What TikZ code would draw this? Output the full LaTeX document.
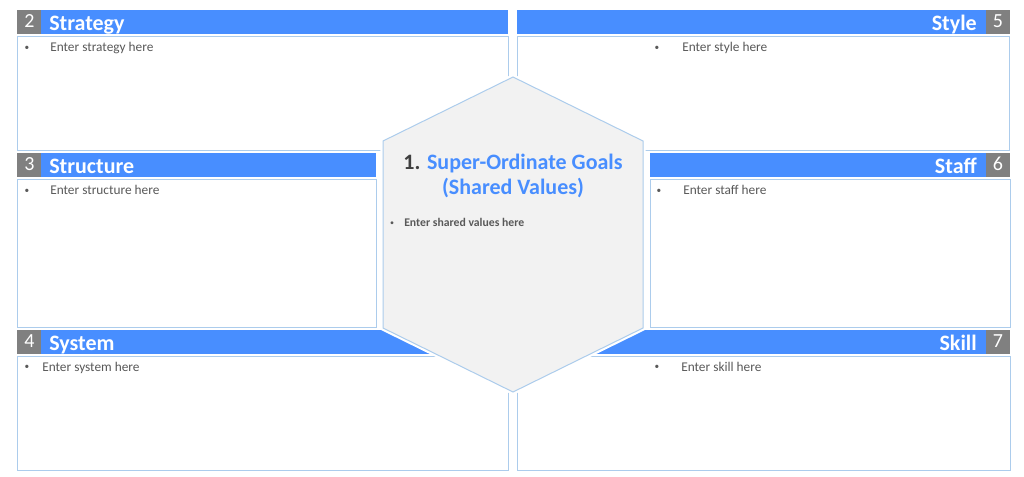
\documentclass[tikz,border=0pt]{standalone}
\usepackage{fontspec}
\setmainfont{Carlito}
\definecolor{barblue}{RGB}{72,142,255}
\definecolor{numgray}{RGB}{128,128,128}
\definecolor{edgeblue}{RGB}{172,204,236}
\definecolor{hexfill}{RGB}{242,242,242}
\definecolor{bodytext}{RGB}{89,89,89}
\definecolor{darktext}{RGB}{64,64,64}
\begin{document}
\begin{tikzpicture}[x=0.75pt,y=-0.75pt,
  bar/.style={fill=barblue,draw=none},
  numbox/.style={fill=numgray,draw=none},
  panel/.style={draw=edgeblue,line width=0.75pt,fill=white},
  title/.style={text=white,font=\bfseries\fontsize{16.5}{18}\selectfont,inner sep=0pt},
  num/.style={text=white,font=\fontsize{15}{17}\selectfont,inner sep=0pt},
  body/.style={text=bodytext,font=\fontsize{10}{12}\selectfont,inner sep=0pt},
  bul/.style={text=bodytext,font=\fontsize{7}{8}\selectfont,inner sep=0pt},
  hexline/.style={draw=edgeblue,line width=0.75pt,fill=hexfill},
  goal/.style={text=barblue,font=\bfseries\fontsize{16.5}{19}\selectfont,inner sep=0pt}
]
\useasboundingbox[fill=white] (0,0) rectangle (1024,477);

% ---- panels ----
\draw[panel] (17,37) rectangle (508,151);
\draw[panel] (517,37) rectangle (1009,151);
\draw[panel] (17,180) rectangle (376,327);
\draw[panel] (650,180) rectangle (1010,327);
\draw[panel] (17,356) rectangle (508,470);
\draw[panel] (517,356) rectangle (1010,470);

% ---- header bars ----
\fill[numbox] (17,10) rectangle (41,34);
\fill[bar] (41,10) rectangle (508,34);
\fill[bar] (517,10) rectangle (986,34);
\fill[numbox] (986,10) rectangle (1010,34);

\fill[numbox] (17,153) rectangle (41,177);
\fill[bar] (41,153) rectangle (376,177);
\fill[bar] (650,153) rectangle (986,177);
\fill[numbox] (986,153) rectangle (1010,177);

\fill[numbox] (17,330) rectangle (41,354);
\fill[bar] (41,330) rectangle (508,354);
\fill[bar] (517,330) rectangle (986,354);
\fill[numbox] (986,330) rectangle (1010,354);

% ---- titles and numbers ----
\node[num,anchor=base] (n2) at (29.5,27.5) {2};
\node[title,anchor=base west] (t2) at (49,30.5) {Strategy};
\node[num,anchor=base] (n3) at (29.5,170.5) {3};
\node[title,anchor=base west] (t3) at (49,173.5) {Structure};
\node[num,anchor=base] (n4) at (29.5,347.5) {4};
\node[title,anchor=base west] (t4) at (49,350.5) {System};
\node[num,anchor=base] (n5) at (998,27.5) {5};
\node[title,anchor=base east] (t5) at (977,30.5) {Style};
\node[num,anchor=base] (n6) at (998,170.5) {6};
\node[title,anchor=base east] (t6) at (977,173.5) {Staff};
\node[num,anchor=base] (n7) at (998,347.5) {7};
\node[title,anchor=base east] (t7) at (977,350.5) {Skill};

% ---- bullets ----
\node[bul] (b2) at (27,48) {•};
\node[body,anchor=base west] (e2) at (50,52) {Enter strategy here};
\node[bul] (b3) at (27,191) {•};
\node[body,anchor=base west] (e3) at (50,195) {Enter structure here};
\node[bul] (b4) at (27,367) {•};
\node[body,anchor=base west] (e4) at (42,371) {Enter system here};
\node[bul] (b5) at (657,48) {•};
\node[body,anchor=base west] (e5) at (682,52) {Enter style here};
\node[bul] (b6) at (659,191) {•};
\node[body,anchor=base west] (e6) at (683,195) {Enter staff here};
\node[bul] (b7) at (657,367) {•};
\node[body,anchor=base west] (e7) at (681,371) {Enter skill here};

% ---- central hexagon ----
\draw[white,line width=4pt,fill=hexfill,line join=miter]
  (513,77) -- (643,141) -- (643,328) -- (513,392) -- (383,328) -- (383,141) -- cycle;
\draw[hexline,line join=miter]
  (513,77) -- (643,141) -- (643,328) -- (513,392) -- (383,328) -- (383,141) -- cycle;

\node[goal,anchor=base] (g1) at (513,170) {{\color{darktext}1.} Super-Ordinate Goals};
\node[goal,anchor=base] (g2) at (513,195) {(Shared Values)};
\node[bul,font=\fontsize{6}{7}\selectfont] (b1) at (392,224) {•};
\node[body,anchor=base west,font=\bfseries\fontsize{8.8}{10}\selectfont] (e1) at (404,227) {Enter shared values here};
\end{tikzpicture}
\end{document}
